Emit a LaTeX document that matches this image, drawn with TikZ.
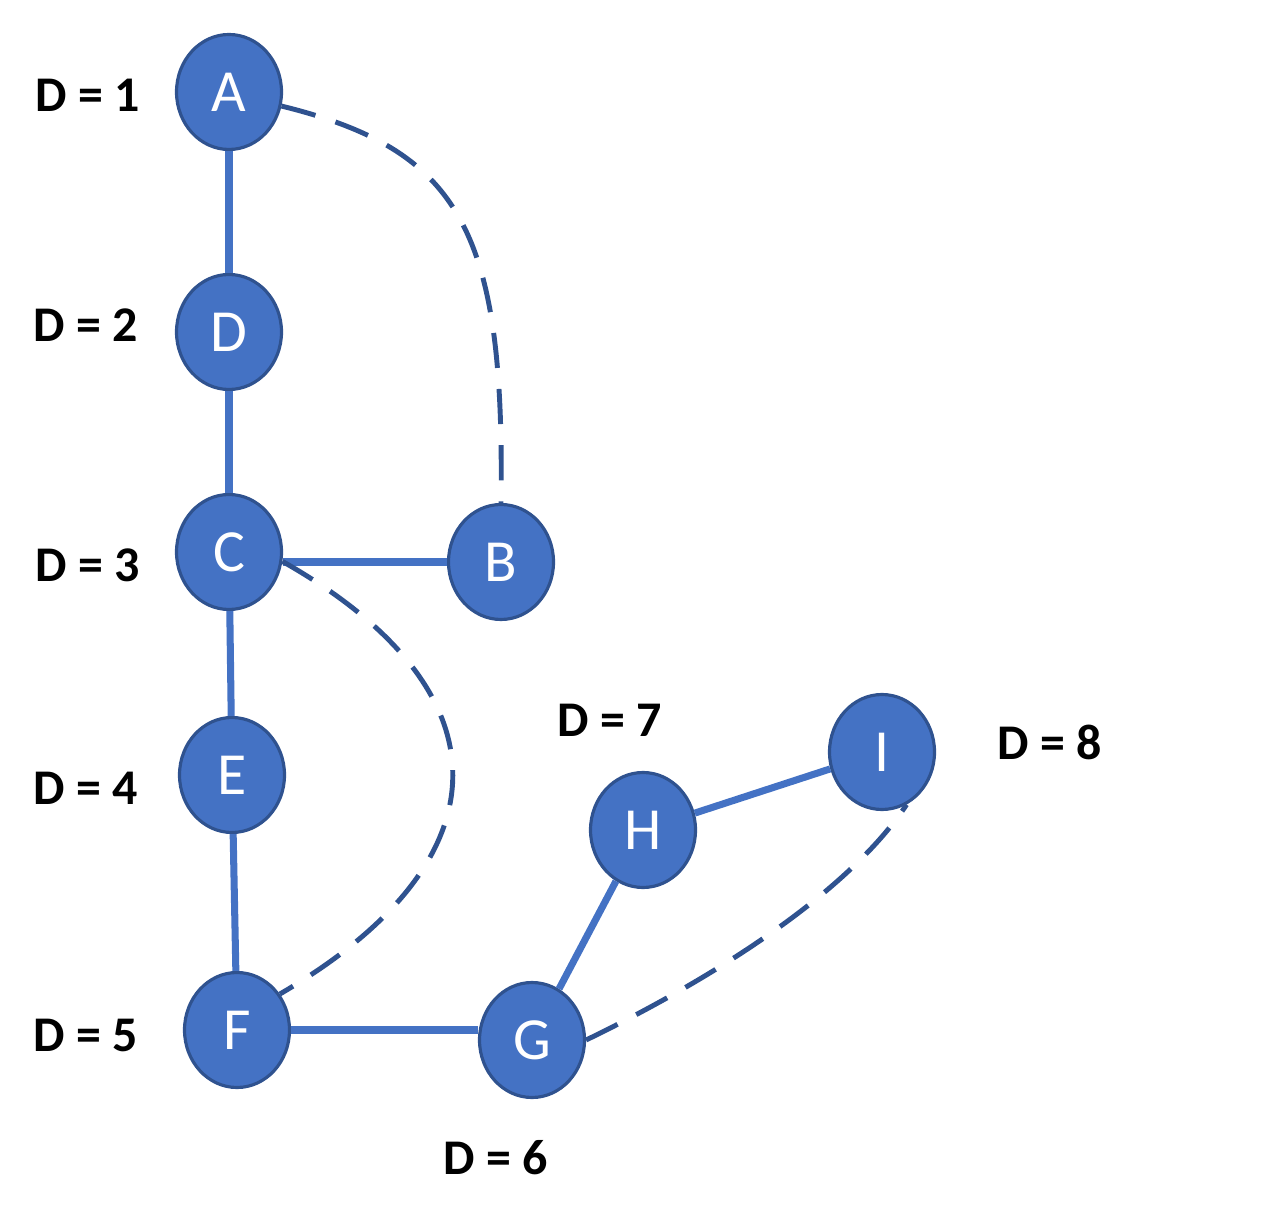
\documentclass[tikz,border=0pt]{standalone}
\usepackage{fontspec}
\setmainfont{Carlito}
\usetikzlibrary{shapes.geometric}
\definecolor{nodeblue}{HTML}{4472C4}
\definecolor{darkblue}{HTML}{2F528F}

\begin{document}
\begin{tikzpicture}[
	vertex/.style={ellipse, fill=nodeblue, draw=darkblue, line width=0.9pt, minimum width=1.05cm, minimum height=1.15cm, inner sep=0pt, text=white, font=\fontsize{17}{17}\selectfont},
	tree/.style={draw=nodeblue, line width=2pt},
	back/.style={draw=darkblue, line width=1.4pt, dash pattern=on 10pt off 6pt},
	depth/.style={black, font=\fontsize{14.2}{14.2}\selectfont\bfseries}
	]
		%\draw[thin, draw=gray, step=1] (0,0) grid (12.8,12.27);
		\useasboundingbox (0,0) rectangle (12.80,12.27);
		
		\node[vertex] (A) at (2.29,11.35) {A};
		\node[vertex] (D) at (2.29,8.95) {D};
		\node[vertex] (C) at (2.29,6.75) {C};
		\node[vertex] (B) at (5.01,6.65) {B};
		\node[vertex] (E) at (2.32,4.52) {E};
		\node[vertex] (F) at (2.37,1.97) {F};
		\node[vertex] (G) at (5.32,1.87) {G};
		\node[vertex] (H) at (6.43,3.97) {H};
		\node[vertex] (I) at (8.82,4.75) {I};
		
		\draw[tree] (A) -- (D);
		\draw[tree] (D) -- (C);
		\draw[tree] (C.east |- B.west) -- (B.west);
		\draw[tree] (C) -- (E);
		\draw[tree] (E) -- (F);
		\draw[tree] (F.east) -- (F.east -| G.west);
		\draw[tree] (G) -- (H);
		\draw[tree] (H) -- (I);
		
		\draw[back] (A.-15) .. controls (4.60,10.77) and (5.05,9.97) .. (B.north);
		\draw[back] (C.-10) .. controls (5.10,5.37) and (5.10,3.67) .. (F.40);
		\draw[back] (G.east) .. controls (7.20,2.52) and (8.50,3.37) .. (I.-65);
		
		\node[depth] (dA) at (0.88,11.32) {D = 1};
		\node[depth] (dD) at (0.86,9.02) {D = 2};
		\node[depth] (dC) at (0.88,6.62) {D = 3};
		\node[depth] (dE) at (0.86,4.39) {D = 4};
		\node[depth] (dF) at (0.86,1.92) {D = 5};
		\node[depth] (dG) at (4.96,0.69) {D = 6};
		\node[depth] (dH) at (6.10,5.07) {D = 7};
		\node[depth] (dI) at (10.50,4.85) {D = 8};
	\end{tikzpicture}
\end{document}
